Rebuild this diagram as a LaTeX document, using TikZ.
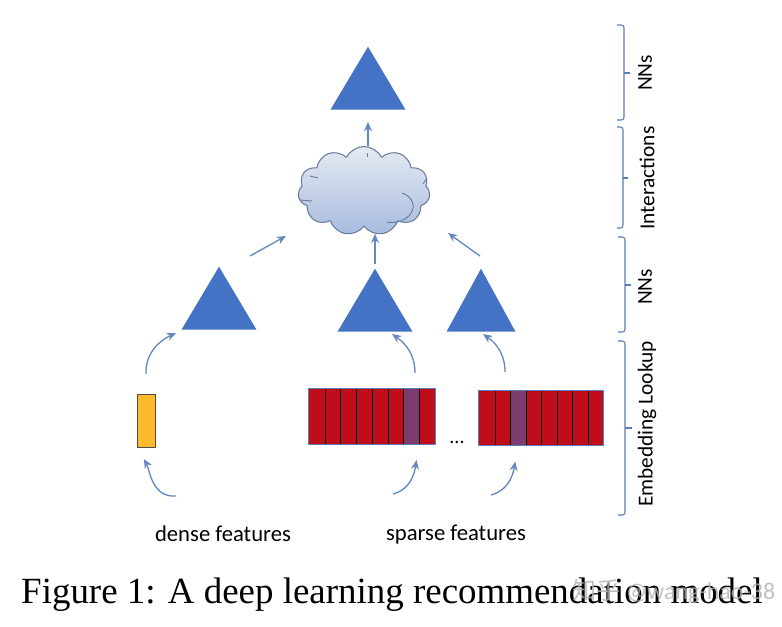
\documentclass[tikz,border=0pt]{standalone}
\usepackage{fontspec}
\setmainfont{Carlito}
\newfontfamily\capfont{Liberation Serif}
\newfontfamily\cjk{Noto Sans CJK SC}
\usetikzlibrary{shapes.geometric,shapes.symbols,arrows.meta}
\definecolor{triblue}{HTML}{4472C4}
\definecolor{flowblue}{HTML}{6488C0}
\definecolor{cellred}{HTML}{C00D1A}
\definecolor{cellpurple}{HTML}{7D3C6E}
\definecolor{densegold}{HTML}{FDB92C}
\definecolor{bracketblue}{HTML}{5B7DB5}
\definecolor{cloudtop}{HTML}{E6EAF3}
\definecolor{cloudbottom}{HTML}{A6BBDE}
\definecolor{cloudline}{HTML}{6B7C9C}
\tikzset{
  nn/.style={isosceles triangle, isosceles triangle stretches, shape border rotate=90,
    fill=triblue, draw=none, inner sep=0pt, minimum width=#1*0.75pt, minimum height=63*0.75pt},
  cell/.style={rectangle, fill=#1, draw=none, inner sep=0pt,
    minimum width=15.7*0.75pt, minimum height=55*0.75pt},
  flow/.style={-{Stealth[length=7pt,width=6pt]}, draw=flowblue, line width=1pt},
  brk/.style={draw=bracketblue, line width=0.8pt, rounded corners=2pt},
  wrinkle/.style={draw=cloudline, line width=0.7pt},
  sidelabel/.style={rotate=90, font=\fontsize{16}{18}\selectfont},
  featlabel/.style={font=\fontsize{17}{19}\selectfont}
}
\begin{document}
\begin{tikzpicture}[x=0.75pt, y=-0.75pt, line join=round]
\useasboundingbox (0,0) rectangle (782,626);

% triangles
\node[nn=75, anchor=apex] (nntop) at (368,46) {};
\node[nn=75, anchor=apex] (nnleft) at (219,266) {};
\node[nn=75, anchor=apex] (nnmid) at (375,268) {};
\node[nn=69, anchor=apex] (nnright) at (481,268) {};

% cloud
\node[cloud, cloud puffs=11, cloud puff arc=125, aspect=1.5, draw=cloudline, line width=0.8pt,
  top color=cloudtop, bottom color=cloudbottom, inner sep=0pt,
  minimum width=132*0.75pt, minimum height=89*0.75pt] (interact) at (364,191) {};
\draw[wrinkle] (402,193) .. controls (412,196) and (416,206) .. (411,213) .. controls (407,220) and (397,224) .. (387,222);
\draw[wrinkle] (310,176) -- (318,178);
\draw[wrinkle] (300,200) -- (312,201);
\draw[wrinkle] (367,157) -- (367,153);
\draw[wrinkle] (423,184) -- (427,178);

% embedding cells
\node[rectangle, fill=densegold, draw=black!70, line width=0.6pt, inner sep=0pt,
  minimum width=18*0.75pt, minimum height=53*0.75pt] (dense) at (146.5,420.5) {};
\foreach \i/\c in {0/cellred,1/cellred,2/cellred,3/cellred,4/cellred,5/cellred,6/cellpurple,7/cellred}
  \node[cell=\c] (a\i) at ({317+\i*15.7},416.5) {};
\foreach \i/\c in {0/cellred,1/cellred,2/cellpurple,3/cellred,4/cellred,5/cellred,6/cellred,7/cellred}
  \node[cell=\c] (b\i) at ({487+\i*15.5},418) {};
\foreach \i in {0,...,6} {
  \draw[black, line width=0.6pt] (a\i.north east) -- (a\i.south east);
  \draw[black, line width=0.6pt] (b\i.north east) -- (b\i.south east);
}
\draw[bracketblue, line width=0.7pt] (a0.north west) rectangle (a7.south east);
\draw[bracketblue, line width=0.7pt] (b0.north west) rectangle (b7.south east);
\node[font=\fontsize{15}{17}\selectfont] (dots) at (457,442) {...};

% feature labels
\node[featlabel] (denselabel) at (223,534) {dense features};
\node[featlabel] (sparselabel) at (456,535) {sparse features};

% arrow ends
\coordinate (leftout) at (250,256);
\coordinate (leftin) at (286,236);
\coordinate (rightout) at (480,256);
\coordinate (rightin) at (448,233);
\coordinate (denseup) at (146,374);
\coordinate (denseto) at (176,333);
\coordinate (aup) at (415,373);
\coordinate (ato) at (392,334);
\coordinate (bup) at (505,372);
\coordinate (bto) at (483,334);
\coordinate (densefrom) at (176,496);
\coordinate (afrom) at (393,494);
\coordinate (bfrom) at (491,495);

% arrows
\draw[flow, shorten >=9pt] (interact.north -| nntop.apex) -- (nntop.lower side);
\draw[flow, shorten <=3pt, shorten >=5pt] (nnmid.apex) -- (interact.south -| nnmid.apex);
\draw[flow] (leftout) -- (leftin);
\draw[flow] (rightout) -- (rightin);
\draw[flow] (denseup) to[out=92,in=205] (denseto);
\draw[flow] (aup) to[out=90,in=-35] (ato);
\draw[flow] (bup) to[out=90,in=-35] (bto);
\draw[flow, shorten >=10pt] (densefrom) to[out=185,in=-60] (dense.south west);
\draw[flow, shorten >=12pt] (afrom) to[out=15,in=-100] (a6.south east);
\draw[flow, shorten >=12pt] (bfrom) to[out=15,in=-100] (b2.south);

% side brackets
\draw[brk] (617,25) -- (624,25) -- (624,120) -- (617,120);
\draw[brk] (617,127) -- (623,127) -- (623,228) -- (617,228);
\draw[brk] (618,237) -- (625,237) -- (625,332) -- (618,332);
\draw[brk] (618,341) -- (625,341) -- (625,515) -- (618,515);
\draw[brk] (624,73) -- (630,73);
\draw[brk] (623,178) -- (628,178);
\draw[brk] (625,285) -- (631,285);
\draw[brk] (625,428) -- (632,428);
\node[sidelabel] (lab1) at (645,73) {NNs};
\node[sidelabel] (lab2) at (647,178) {Interactions};
\node[sidelabel] (lab3) at (645,287) {NNs};
\node[sidelabel] (lab4) at (647,424) {Embedding Lookup};

% caption
\node[font=\capfont\fontsize{27.7}{32}\selectfont] (caption) at (392,595) {Figure 1: A deep learning recommendation model};
\node[font=\fontsize{18}{20}\selectfont, text=black!30, opacity=.8, anchor=east] (mark) at (780,591) {{\cjk 知乎} @wang-hao-38};
\end{tikzpicture}
\end{document}
